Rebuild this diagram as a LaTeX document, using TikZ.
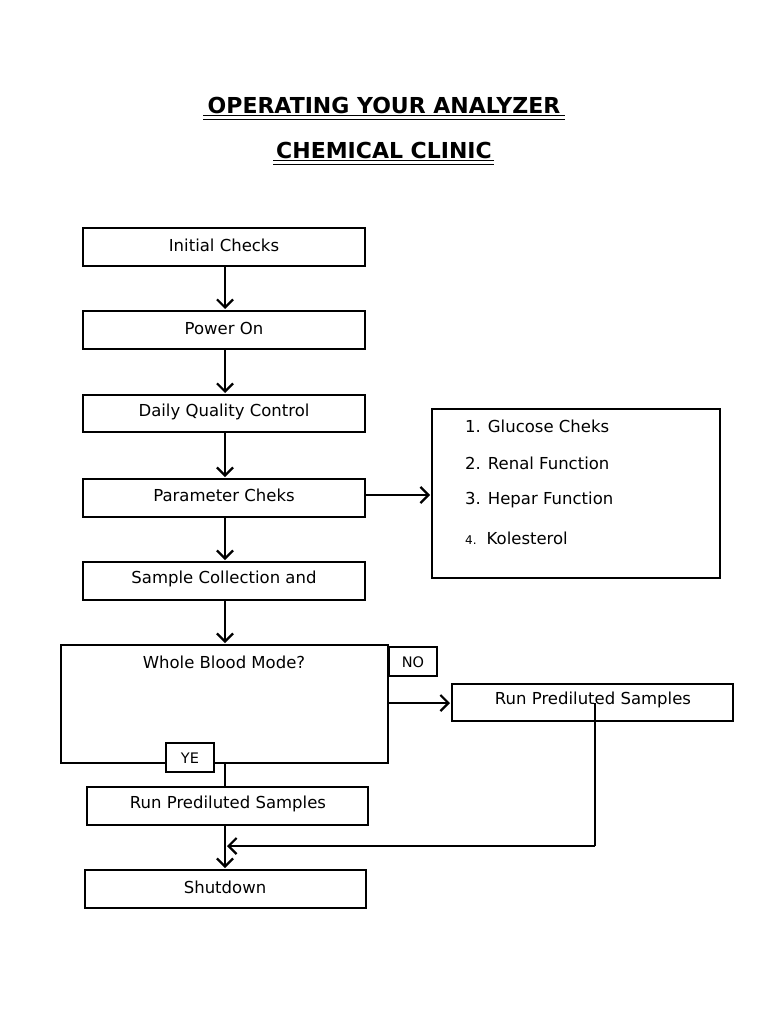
\documentclass[tikz,border=0pt]{standalone}
\usepackage{fontspec}
\setmainfont{DejaVu Sans}
\usetikzlibrary{arrows.meta}
\begin{document}
\begin{tikzpicture}[x=1pt,y=-1pt,
 box/.style={draw,line width=2.2pt,inner sep=0pt},
 lbl/.style={font=\fontsize{16.5}{19}\selectfont,inner sep=0pt},
 arr/.style={line width=2.8pt,-{Straight Barb[length=8pt,width=16pt,line width=2.2pt]}},
 ln/.style={line width=2.8pt}]
\useasboundingbox (0,0) rectangle (768,1024);
\node[font=\bfseries\fontsize{22}{26}\selectfont,inner sep=0pt] (t1) at (384,105) {OPERATING YOUR ANALYZER};
\draw[line width=1pt] (203,116)--(565,116) (203,119.5)--(565,119.5);
\node[font=\bfseries\fontsize{22}{26}\selectfont,inner sep=0pt] (t2) at (384,150) {CHEMICAL CLINIC};
\draw[line width=1pt] (273,161)--(494,161) (273,164.5)--(494,164.5);
% boxes
\draw[box] (83,228) rectangle (365,266); \node[lbl] (b1) at (224,245) {Initial Checks};
\draw[box] (83,311) rectangle (365,349); \node[lbl] (b2) at (224,328) {Power On};
\draw[box] (83,395) rectangle (365,432); \node[lbl] (b3) at (224,412) {Daily Quality Control};
\draw[box] (83,479) rectangle (365,517); \node[lbl] (b4) at (224,495) {Parameter Cheks};
\draw[box] (83,562) rectangle (365,600); \node[lbl] (b5) at (224,579) {Sample Collection and};
\draw[box] (61,645) rectangle (388,763); \node[lbl] (b6) at (224,662) {Whole Blood Mode?};
\draw[box] (432,409) rectangle (720,578);
\node[lbl,anchor=west] (l1) at (465,426) {1. Glucose Cheks};
\node[lbl,anchor=west] (l2) at (465,463) {2. Renal Function};
\node[lbl,anchor=west] (l3) at (465,500) {3. Hepar Function};
\node[lbl,anchor=west] (l4) at (465,538) {\fontsize{12}{14}\selectfont 4.\hspace{10pt}\fontsize{16.5}{19}\selectfont Kolesterol};
\draw[box,fill=white] (389,647) rectangle (437,676); \node[lbl,font=\fontsize{14.5}{17}\selectfont] (no) at (413,662) {NO};
\draw[box] (452,684) rectangle (733,721); \node[lbl] (r1) at (593,700) {Run Prediluted Samples};
\draw[box] (87,787) rectangle (368,825); \node[lbl] (r2) at (228,804) {Run Prediluted Samples};
\draw[box] (85,870) rectangle (366,908); \node[lbl] (sd) at (225,887) {Shutdown};
% arrows
\draw[arr] (225,266)--(225,309);
\draw[arr] (225,349)--(225,393);
\draw[arr] (225,432)--(225,477);
\draw[arr] (225,517)--(225,560);
\draw[arr] (225,600)--(225,643);
\draw[arr] (365,495)--(430,495);
\draw[arr] (388,703)--(450,703);
\draw[ln] (225,763)--(225,787);
\draw[box,fill=white] (166,743) rectangle (214,772); \node[lbl,font=\fontsize{14.5}{17}\selectfont] (ye) at (190,758) {YE};
\draw[arr] (225,825)--(225,868);
\draw[ln] (595,703)--(595,846);
\draw[arr] (595,846)--(227,846);
\end{tikzpicture}
\end{document}
